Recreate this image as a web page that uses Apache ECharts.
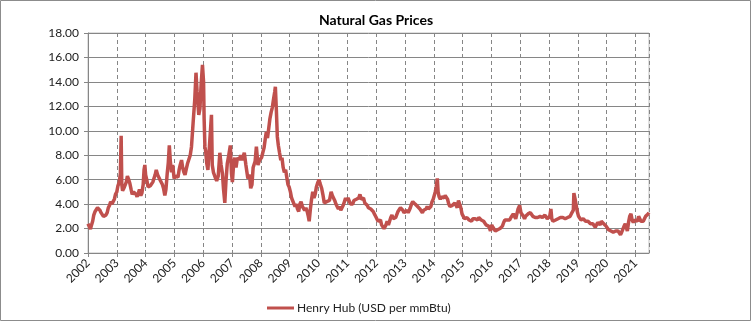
<!DOCTYPE html>
<html>
<head>
<meta charset="utf-8">
<script src="https://cdn.jsdelivr.net/npm/echarts@6/dist/echarts.min.js"></script>
<style>
html,body{margin:0;padding:0;background:#fff;}
#chart{width:752px;height:323px;}
</style>
</head>
<body>
<div id="chart"></div>
<script>
const chartTitle = 'Natural Gas Prices';
const seriesName = 'Henry Hub (USD per mmBtu)';
const yTicks = [0, 2, 4, 6, 8, 10, 12, 14, 16, 18];
const yearLabels = [2002,2003,2004,2005,2006,2007,2008,2009,2010,2011,2012,2013,2014,2015,2016,2017,2018,2019,2020,2021];
const xStart = 2002, xEnd = 2021.47;

// [date, price]
const henryHub = [
['2002-01-01',2.4],['2002-01-15',2.2],['2002-02-01',1.95],['2002-02-15',2.3],['2002-03-01',2.6],['2002-03-15',3.1],['2002-04-01',3.4],['2002-04-15',3.3],['2002-05-01',3.7],['2002-05-15',3.8],['2002-06-01',3.5],['2002-06-15',3.3],['2002-07-01',3.2],['2002-07-15',3.0],['2002-08-01',2.9],['2002-08-15',3.1],['2002-09-01',3.3],['2002-09-15',3.7],['2002-10-01',3.9],['2002-10-15',4.2],['2002-11-01',4.0],['2002-11-15',4.2],['2002-12-01',4.4],['2002-12-15',4.8],
['2003-01-01',5.0],['2003-01-15',5.5],['2003-02-01',5.8],['2003-02-15',6.5],['2003-02-25',9.6],['2003-03-05',5.6],['2003-03-15',5.1],['2003-04-01',5.3],['2003-04-15',5.4],['2003-05-01',5.8],['2003-05-15',6.3],['2003-06-01',6.0],['2003-06-15',5.7],['2003-07-01',5.2],['2003-07-15',4.8],['2003-08-01',5.0],['2003-08-15',4.9],['2003-09-01',4.8],['2003-09-15',4.6],['2003-10-01',4.9],['2003-10-15',5.2],['2003-11-01',4.7],['2003-11-15',4.9],['2003-12-01',5.6],['2003-12-12',6.8],['2003-12-22',7.2],
['2004-01-01',6.4],['2004-01-15',6.0],['2004-02-01',5.4],['2004-02-15',5.3],['2004-03-01',5.5],['2004-03-15',5.5],['2004-04-01',5.8],['2004-04-15',5.9],['2004-05-01',6.4],['2004-05-15',6.8],['2004-06-01',6.4],['2004-06-15',6.3],['2004-07-01',6.0],['2004-07-15',6.1],['2004-08-01',5.6],['2004-08-15',5.3],['2004-09-01',4.7],['2004-09-15',5.2],['2004-10-01',6.5],['2004-10-15',7.4],['2004-10-28',8.8],['2004-11-10',7.5],['2004-11-25',6.6],['2004-12-10',7.2],['2004-12-28',6.1],
['2005-01-15',6.3],['2005-02-01',6.2],['2005-02-15',6.2],['2005-03-01',6.8],['2005-03-15',7.2],['2005-04-01',7.6],['2005-04-15',7.0],['2005-05-01',6.6],['2005-05-15',6.4],['2005-06-01',6.9],['2005-06-15',7.3],['2005-07-01',7.2],['2005-07-20',8.0],['2005-08-05',8.7],['2005-08-25',10.6],['2005-09-15',12.5],['2005-10-01',14.75],['2005-10-15',13.2],['2005-11-05',11.3],['2005-11-20',11.8],['2005-12-05',13.8],['2005-12-22',15.4],
['2006-01-05',14.0],['2006-01-12',11.0],['2006-01-22',8.7],['2006-02-01',8.3],['2006-02-15',7.3],['2006-03-01',6.8],['2006-03-25',6.9],['2006-04-15',11.3],['2006-04-25',7.2],['2006-05-10',6.6],['2006-06-01',6.2],['2006-06-20',5.9],['2006-07-10',6.3],['2006-07-30',8.2],['2006-08-15',7.2],['2006-09-01',6.5],['2006-09-15',5.2],['2006-10-01',4.1],['2006-10-15',5.8],['2006-11-01',7.3],['2006-11-20',8.0],['2006-12-10',8.8],['2006-12-25',6.5],
['2007-01-05',5.8],['2007-01-20',7.2],['2007-02-05',7.8],['2007-02-20',7.0],['2007-03-10',7.8],['2007-04-01',7.6],['2007-04-20',8.0],['2007-05-10',7.6],['2007-06-05',8.2],['2007-06-25',7.2],['2007-07-20',6.1],['2007-08-10',6.4],['2007-08-25',5.3],['2007-09-10',5.6],['2007-09-25',7.0],['2007-10-20',7.5],['2007-11-05',8.7],['2007-11-25',7.2],['2007-12-15',7.6],
['2008-01-10',7.8],['2008-01-25',8.2],['2008-02-10',8.6],['2008-02-25',9.3],['2008-03-10',9.9],['2008-03-25',9.4],['2008-04-10',10.2],['2008-04-25',11.0],['2008-05-10',11.5],['2008-05-25',11.9],['2008-06-10',12.6],['2008-06-25',13.2],['2008-07-03',13.6],['2008-07-15',11.8],['2008-07-28',9.5],['2008-08-10',8.8],['2008-08-25',8.2],['2008-09-10',7.6],['2008-09-25',7.8],['2008-10-10',7.0],['2008-10-25',6.6],['2008-11-10',6.8],['2008-11-25',6.2],['2008-12-10',5.6],['2008-12-25',5.4],
['2009-01-10',5.0],['2009-01-25',4.5],['2009-02-10',4.4],['2009-02-25',4.0],['2009-03-10',3.8],['2009-03-25',4.0],['2009-04-10',3.6],['2009-04-25',3.4],['2009-05-10',4.0],['2009-05-25',4.2],['2009-06-10',3.8],['2009-06-25',3.9],['2009-07-10',3.5],['2009-07-25',3.7],['2009-08-10',3.4],['2009-08-25',3.0],['2009-09-05',2.6],['2009-09-20',3.6],['2009-10-05',4.4],['2009-10-20',5.0],['2009-11-05',4.5],['2009-11-20',4.8],['2009-12-05',5.4],['2009-12-25',5.8],
['2010-01-08',6.0],['2010-01-20',5.7],['2010-02-10',5.3],['2010-02-25',4.8],['2010-03-15',4.1],['2010-04-01',4.0],['2010-04-15',4.2],['2010-05-01',4.1],['2010-05-20',4.3],['2010-06-10',5.0],['2010-06-25',4.7],['2010-07-10',4.6],['2010-07-25',4.3],['2010-08-10',4.0],['2010-08-25',3.8],['2010-09-10',3.6],['2010-09-25',3.8],['2010-10-10',3.5],['2010-10-25',3.4],['2010-11-10',3.9],['2010-11-25',4.2],['2010-12-10',4.5],['2010-12-25',4.3],
['2011-01-10',4.5],['2011-01-25',4.6],['2011-02-10',4.0],['2011-02-25',4.1],['2011-03-10',4.0],['2011-03-25',4.3],['2011-04-10',4.2],['2011-04-25',4.4],['2011-05-10',4.3],['2011-05-25',4.5],['2011-06-10',4.8],['2011-06-25',4.4],['2011-07-10',4.4],['2011-07-25',4.5],['2011-08-10',4.1],['2011-08-25',4.0],['2011-09-10',3.9],['2011-09-25',3.7],['2011-10-10',3.6],['2011-10-25',3.6],['2011-11-10',3.5],['2011-11-25',3.4],['2011-12-10',3.2],['2011-12-25',3.0],
['2012-01-10',2.9],['2012-01-25',2.6],['2012-02-10',2.5],['2012-02-25',2.7],['2012-03-10',2.3],['2012-03-25',2.2],['2012-04-10',2.0],['2012-04-20',1.9],['2012-05-05',2.3],['2012-05-20',2.6],['2012-06-05',2.3],['2012-06-20',2.6],['2012-07-05',2.9],['2012-07-20',3.1],['2012-08-05',2.8],['2012-08-20',2.7],['2012-09-05',2.9],['2012-09-20',3.0],['2012-10-05',3.4],['2012-10-20',3.5],['2012-11-05',3.7],['2012-11-20',3.6],['2012-12-05',3.5],['2012-12-20',3.3],
['2013-01-10',3.3],['2013-01-25',3.5],['2013-02-10',3.3],['2013-02-25',3.5],['2013-03-10',3.7],['2013-03-25',4.0],['2013-04-10',4.2],['2013-04-25',4.3],['2013-05-10',4.0],['2013-05-25',4.1],['2013-06-10',3.8],['2013-06-25',3.7],['2013-07-10',3.6],['2013-07-25',3.5],['2013-08-10',3.3],['2013-08-25',3.5],['2013-09-10',3.6],['2013-09-25',3.6],['2013-10-10',3.8],['2013-10-25',3.6],['2013-11-10',3.5],['2013-11-25',3.8],['2013-12-10',4.2],['2013-12-25',4.4],
['2014-01-05',4.4],['2014-01-20',5.0],['2014-02-01',5.4],['2014-02-15',6.1],['2014-02-25',5.0],['2014-03-10',4.6],['2014-03-25',4.4],['2014-04-10',4.6],['2014-04-25',4.7],['2014-05-10',4.5],['2014-05-25',4.7],['2014-06-10',4.6],['2014-06-25',4.4],['2014-07-10',4.0],['2014-07-25',3.8],['2014-08-10',3.9],['2014-08-25',3.9],['2014-09-10',3.9],['2014-09-25',4.1],['2014-10-10',3.9],['2014-10-25',3.7],['2014-11-10',4.3],['2014-11-25',4.4],['2014-12-10',3.7],['2014-12-25',3.2],
['2015-01-10',3.0],['2015-01-25',2.8],['2015-02-10',2.7],['2015-02-25',2.9],['2015-03-10',2.8],['2015-03-25',2.7],['2015-04-10',2.6],['2015-04-25',2.6],['2015-05-10',2.8],['2015-05-25',2.9],['2015-06-10',2.8],['2015-06-25',2.8],['2015-07-10',2.7],['2015-07-25',2.9],['2015-08-10',2.8],['2015-08-25',2.7],['2015-09-10',2.6],['2015-09-25',2.6],['2015-10-10',2.5],['2015-10-25',2.3],['2015-11-10',2.3],['2015-11-25',2.2],['2015-12-10',2.0],['2015-12-20',1.8],
['2016-01-05',2.3],['2016-01-20',2.1],['2016-02-05',2.0],['2016-02-20',1.8],['2016-03-05',1.7],['2016-03-20',1.9],['2016-04-05',1.9],['2016-04-20',2.0],['2016-05-05',2.1],['2016-05-20',2.2],['2016-06-05',2.5],['2016-06-20',2.7],['2016-07-05',2.8],['2016-07-20',2.7],['2016-08-05',2.8],['2016-08-20',2.7],['2016-09-05',2.9],['2016-09-20',3.0],['2016-10-05',3.2],['2016-10-20',3.1],['2016-11-05',2.8],['2016-11-20',3.2],['2016-12-05',3.6],['2016-12-25',3.9],
['2017-01-10',3.3],['2017-01-25',3.2],['2017-02-10',3.0],['2017-02-25',2.8],['2017-03-10',3.0],['2017-03-25',3.1],['2017-04-10',3.2],['2017-04-25',3.2],['2017-05-10',3.3],['2017-05-25',3.2],['2017-06-10',3.0],['2017-06-25',3.0],['2017-07-10',2.9],['2017-07-25',3.0],['2017-08-10',2.9],['2017-08-25',2.9],['2017-09-10',3.0],['2017-09-25',3.0],['2017-10-10',2.9],['2017-10-25',2.9],['2017-11-10',3.1],['2017-11-25',3.0],['2017-12-10',2.8],['2017-12-25',2.9],
['2018-01-10',3.0],['2018-01-25',3.6],['2018-02-05',2.8],['2018-02-20',2.6],['2018-03-10',2.7],['2018-03-25',2.7],['2018-04-10',2.7],['2018-04-25',2.8],['2018-05-10',2.8],['2018-05-25',2.9],['2018-06-10',2.9],['2018-06-25',2.9],['2018-07-10',2.8],['2018-07-25',2.8],['2018-08-10',2.9],['2018-08-25',2.9],['2018-09-10',2.8],['2018-09-25',3.0],['2018-10-10',3.2],['2018-10-25',3.2],['2018-11-05',3.5],['2018-11-12',4.9],['2018-11-25',4.5],['2018-12-05',4.4],['2018-12-15',4.6],['2018-12-25',3.4],
['2019-01-10',3.0],['2019-01-25',3.1],['2019-02-10',2.7],['2019-02-25',2.8],['2019-03-10',2.8],['2019-03-25',2.7],['2019-04-10',2.6],['2019-04-25',2.5],['2019-05-10',2.6],['2019-05-25',2.5],['2019-06-10',2.4],['2019-06-25',2.3],['2019-07-10',2.4],['2019-07-25',2.3],['2019-08-10',2.1],['2019-08-25',2.2],['2019-09-10',2.5],['2019-09-25',2.5],['2019-10-10',2.3],['2019-10-25',2.6],['2019-11-10',2.7],['2019-11-25',2.4],['2019-12-10',2.3],['2019-12-25',2.2],
['2020-01-10',2.1],['2020-01-25',1.9],['2020-02-10',1.8],['2020-02-25',1.8],['2020-03-10',1.8],['2020-03-25',1.7],['2020-04-10',1.7],['2020-04-25',1.8],['2020-05-10',1.7],['2020-05-25',1.8],['2020-06-10',1.7],['2020-06-25',1.5],['2020-07-10',1.7],['2020-07-25',1.8],['2020-08-10',2.2],['2020-08-25',2.4],['2020-09-10',2.3],['2020-09-20',1.8],['2020-10-05',2.5],['2020-10-20',3.0],['2020-11-05',3.2],['2020-11-20',2.7],['2020-12-05',2.5],['2020-12-20',2.7],
['2021-01-10',2.7],['2021-01-25',2.6],['2021-02-10',3.0],['2021-02-25',2.8],['2021-03-10',2.6],['2021-03-25',2.6],['2021-04-10',2.6],['2021-04-25',2.8],['2021-05-10',3.0],['2021-05-25',2.9],['2021-06-10',3.2],['2021-06-20',3.3]
];

function toYear(s){
  const p = s.split('-').map(Number);
  const y = p[0];
  const a = Date.UTC(y,0,1), b = Date.UTC(y+1,0,1);
  return y + (Date.UTC(y,p[1]-1,p[2]) - a) / (b - a);
}
const lineData = henryHub.map(d => [toYear(d[0]), d[1]]);

const FONT = 'Lato';
const chart = echarts.init(document.getElementById('chart'), null, {renderer:'canvas'});
chart.setOption({
  animation:false,
  backgroundColor:'#fff',
  textStyle:{fontFamily:FONT},
  title:{text:chartTitle, left:'center', top:8,
    textStyle:{fontFamily:FONT, fontSize:14, fontWeight:'bold', color:'#000'}},
  legend:{left:267, top:302, padding:0, icon:'rect', itemWidth:27, itemHeight:3, itemGap:5,
    textStyle:{fontFamily:FONT, fontSize:12, color:'#222', padding:[0,0,0,-2]}, data:[seriesName]},
  grid:{left:88, right:103, top:33, bottom:70, show:true, borderColor:'#c0c0c0', borderWidth:1},
  xAxis:{type:'value', min:xStart, max:xEnd, interval:1,
    axisLine:{lineStyle:{color:'#868686'}},
    axisTick:{show:true, length:4, lineStyle:{color:'#868686'}},
    axisLabel:{rotate:45, margin:8, fontFamily:FONT, fontSize:12, color:'#222', showMaxLabel:false,
      formatter:v => yearLabels.indexOf(Math.round(v))>=0 && Math.abs(v-Math.round(v))<1e-6 ? String(Math.round(v)) : ''},
    splitLine:{show:true, lineStyle:{color:'#868686', type:[4,3]}}},
  yAxis:{type:'value', min:yTicks[0], max:yTicks[yTicks.length-1], interval:2,
    axisLine:{show:true, lineStyle:{color:'#868686'}},
    axisTick:{show:true, length:4, lineStyle:{color:'#868686'}},
    axisLabel:{margin:9, fontFamily:FONT, fontSize:12, color:'#222', formatter:v => v.toFixed(2)},
    splitLine:{show:true, lineStyle:{color:'#868686'}}},
  graphic:[{type:'rect', shape:{x:0.5, y:0.5, width:750, height:320}, style:{fill:null, stroke:'#8c8c8c', lineWidth:1}, silent:true, z:100}],
  series:[{name:seriesName, type:'line', data:lineData, showSymbol:false, symbol:'none',
    lineStyle:{color:'#C0504D', width:3.5}, itemStyle:{color:'#C0504D'}}]
});
</script>
</body>
</html>
